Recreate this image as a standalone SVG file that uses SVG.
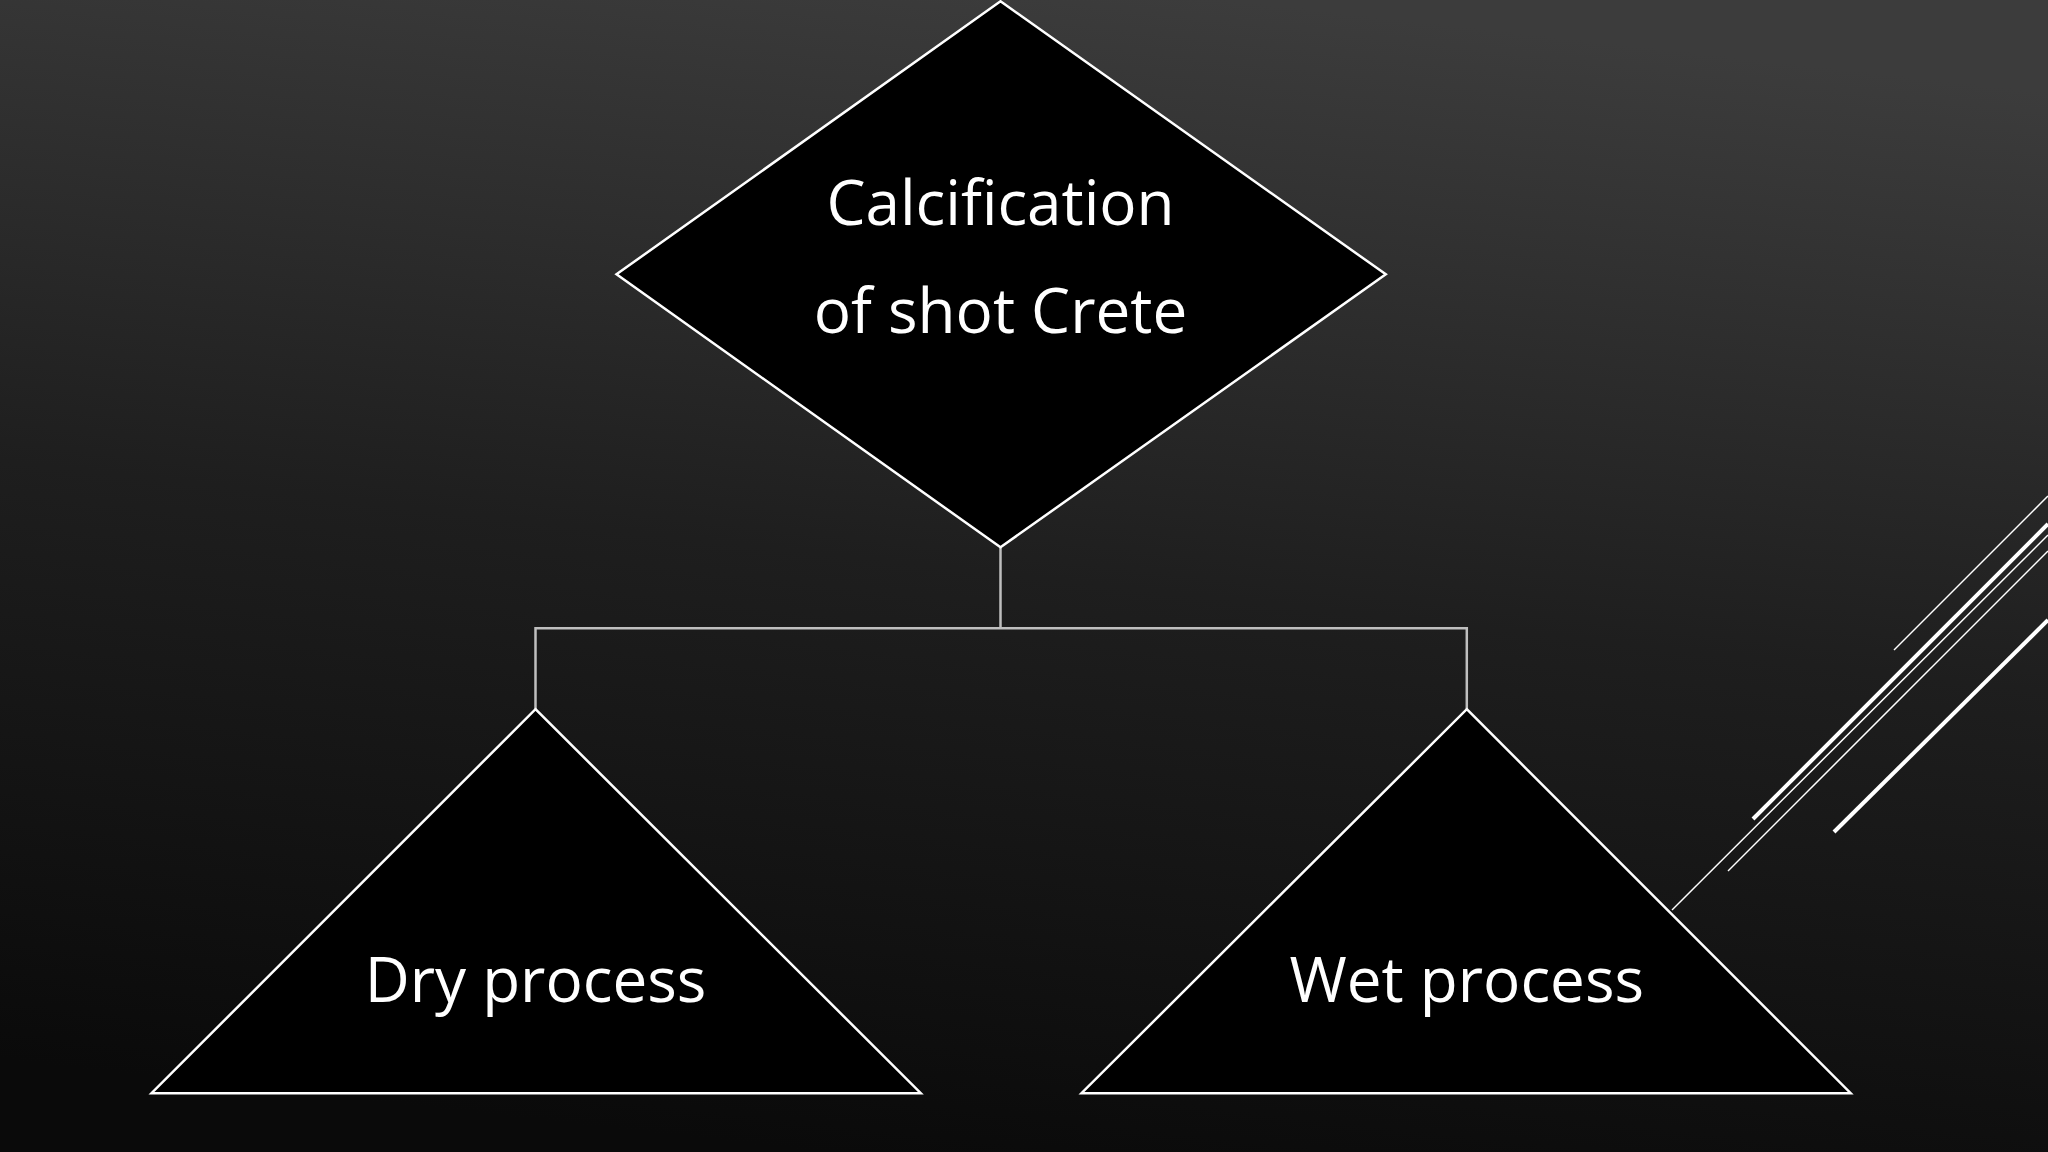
<svg xmlns="http://www.w3.org/2000/svg" width="2048" height="1152" viewBox="0 0 2048 1152">
<defs>
<linearGradient id="bg" x1="0.6" y1="0" x2="0.4" y2="1">
<stop offset="0" stop-color="#3c3c3c"/>
<stop offset="0.5" stop-color="#1e1e1e"/>
<stop offset="1" stop-color="#0a0a0a"/>
</linearGradient>
<style>
.shape{fill:#000;stroke:#fff;stroke-width:2.5}
.conn{fill:none;stroke:#bfbfbf;stroke-width:2.5}
.t{fill:#fff;font-family:"Open Sans","Noto Sans",sans-serif;font-size:62px;text-anchor:middle}
.deco{stroke:#fff;fill:none}
</style>
</defs>
<rect width="2048" height="1152" fill="url(#bg)"/>
<g id="decor">
<line class="deco" x1="1894" y1="650" x2="2048" y2="496" stroke-width="1.5"/>
<line class="deco" x1="1753" y1="819" x2="2048" y2="524" stroke-width="4"/>
<line class="deco" x1="1728" y1="871" x2="2048" y2="551" stroke-width="1.5"/>
<line class="deco" x1="1672" y1="910" x2="2048" y2="535" stroke-width="1.5"/>
<line class="deco" x1="1834" y1="832" x2="2048" y2="620" stroke-width="4"/>
</g>
<g id="connectors">
<path class="conn" d="M1000.5 547.3 V628.2 M535.5 709.2 V628.2 H1466.8 V709.2"/>
</g>
<g id="calcification">
<polygon class="shape" points="1000.5,1.3 1385.8,274.3 1000.5,547.3 616.5,274.3"/>
<text class="t" x="1000.5" y="225">Calcification</text>
<text class="t" x="1000.5" y="333">of shot Crete</text>
</g>
<g id="dry">
<polygon class="shape" points="535.5,709.2 920.8,1093.2 151.5,1093.2"/>
<text class="t" x="535.5" y="1002">Dry process</text>
</g>
<g id="wet">
<polygon class="shape" points="1466.8,709.2 1850.7,1093.2 1081.5,1093.2"/>
<text class="t" x="1466.8" y="1002">Wet process</text>
</g>
</svg>
